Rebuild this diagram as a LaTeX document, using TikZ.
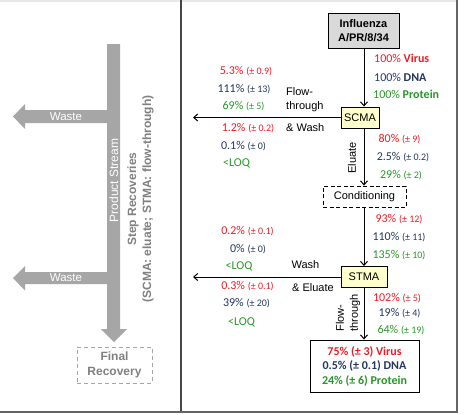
\documentclass[tikz,border=0pt]{standalone}
\usepackage{fontspec}
\setmainfont{Liberation Sans}
\newfontfamily\carl{Carlito}
\usetikzlibrary{arrows.meta}
\definecolor{cred}{RGB}{237,28,36}
\definecolor{cnavy}{RGB}{36,54,96}
\definecolor{cgreen}{RGB}{40,150,40}
\definecolor{agray}{RGB}{166,166,166}
\definecolor{tgray}{RGB}{128,128,128}
\definecolor{boxgray}{RGB}{217,217,217}
\definecolor{boxyellow}{RGB}{255,255,204}
\definecolor{framegray}{RGB}{70,70,70}
\definecolor{edgegray}{RGB}{100,100,100}
\definecolor{topgray}{RGB}{232,232,232}
\newcommand\pcv[3]{\textcolor{#1}{#2\% {\fontsize{10}{12}\selectfont(± #3)}}}
\begin{document}
\begin{tikzpicture}[x=1pt,y=-1pt,
  pct/.style={font=\carl\fontsize{12}{14}\selectfont, inner sep=0pt},
  lbl/.style={font=\fontsize{11}{14}\selectfont, inner sep=0pt},
  arr/.style={-{Straight Barb[length=4pt,width=7pt]}, line width=1pt},
  box/.style={draw, line width=0.9pt, inner sep=2pt, font=\fontsize{11}{14}\selectfont}]
\useasboundingbox (0,0) rectangle (474,415);
% frame
\draw[topgray, line width=2pt] (0,1) -- (457,1);
\draw[framegray, line width=1.5pt] (181,0) -- (181,412);
\draw[edgegray, line width=2pt] (0,412) -- (458,412);
\draw[edgegray, line width=2pt] (457,0) -- (457,413);
% left schematic
\fill[agray] (107,44) -- (120,44) -- (120,329) -- (127,329) -- (114,342) -- (101,329) -- (107,329) -- cycle;
\fill[agray] (107.5,110) -- (25,110) -- (25,104) -- (13,116.5) -- (25,129) -- (25,123) -- (107.5,123) -- cycle;
\fill[agray] (107.5,272) -- (25,272) -- (25,266) -- (13,278) -- (25,290.5) -- (25,284) -- (107.5,284) -- cycle;
\node[text=white, font=\fontsize{11.5}{13}\selectfont, inner sep=0pt] (waste1) at (66,116.5) {Waste};
\node[text=white, font=\fontsize{11.5}{13}\selectfont, inner sep=0pt] (waste2) at (66,278) {Waste};
\node[rotate=90, text=white, font=\fontsize{12}{14}\selectfont, inner sep=0pt] (ps) at (113.8,180.5) {Product Stream};
\node[rotate=90, text=tgray, font=\bfseries\fontsize{12}{15}\selectfont, align=center, inner sep=0pt] (sr) at (140.5,199) {Step Recoveries\\(SCMA: eluate; STMA: flow-through)};
\node[draw=agray, dash pattern=on 4pt off 3pt, line width=1pt, minimum width=75pt, minimum height=36pt, text=tgray, font=\bfseries\fontsize{12}{15}\selectfont, align=center] (fr) at (114.5,365) {Final\\Recovery};
% right flow
\node[box, fill=boxgray, minimum width=71pt, minimum height=35pt, align=center, font=\bfseries\fontsize{11}{14}\selectfont] (infl) at (363.5,30.5) {Influenza\\A/PR/8/34};
\node[box, fill=boxyellow, minimum width=38pt, minimum height=21pt] (scma) at (360,117.5) {SCMA};
\node[box, dash pattern=on 4pt off 2.5pt, minimum width=83pt, minimum height=21pt] (cond) at (364.5,196.5) {Conditioning};
\node[box, fill=boxyellow, minimum width=46pt, minimum height=21pt] (stma) at (364,277) {STMA};
\node[box, minimum width=109pt, minimum height=52pt, align=center, font=\carl\bfseries\fontsize{12}{14.5}\selectfont] (final) at (364.5,366) {\textcolor{cred}{75\% (± 3) Virus}\\\textcolor{cnavy}{0.5\% (± 0.1) DNA}\\\textcolor{cgreen}{24\% (± 6) Protein}};
\coordinate (ax) at (364,0);
\draw[arr] (infl.south -| ax) -- (scma.north -| ax);
\draw[arr] (scma.south -| ax) -- (cond.north -| ax);
\draw[arr] (cond.south -| ax) -- (stma.north -| ax);
\draw[arr] (stma.south -| ax) -- (final.north -| ax);
\coordinate (e1) at (193,117.5);
\coordinate (e2) at (193,277);
\draw[arr] (scma.west) -- (e1);
\draw[arr] (stma.west) -- (e2);
% labels
\node[lbl, align=left, anchor=west] (ft1) at (286,100) {Flow-\\through};
\node[lbl, anchor=west] (ampw) at (286,128) {\& Wash};
\node[lbl, rotate=90] (elu) at (352,158) {Eluate};
\node[lbl] (wash) at (305.5,265) {Wash};
\node[lbl, anchor=west] (ampe) at (292,288) {\& Eluate};
\node[lbl, rotate=90, align=left] (ft2) at (348,313) {Flow-\\through};
% SCMA input
\node[pct, anchor=west] (i1) at (374,58) {\textcolor{cred}{100\% \textbf{Virus}}};
\node[pct, anchor=west] (i2) at (374,77) {\textcolor{cnavy}{100\% \textbf{DNA}}};
\node[pct, anchor=west] (i3) at (373,94) {\textcolor{cgreen}{100\% \textbf{Protein}}};
% SCMA waste
\node[pct] (a1) at (246,71) {\pcv{cred}{5.3}{0.9}};
\node[pct] (a2) at (244,89) {\pcv{cnavy}{111}{13}};
\node[pct] (a3) at (243.5,106) {\pcv{cgreen}{69}{5}};
\node[pct] (a4) at (248,128) {\pcv{cred}{1.2}{0.2}};
\node[pct] (a5) at (243.5,146) {\pcv{cnavy}{0.1}{0}};
\node[pct] (a6) at (236.5,163) {\textcolor{cgreen}{<LOQ}};
% eluate
\node[pct] (b1) at (399.5,139) {\pcv{cred}{80}{9}};
\node[pct] (b2) at (403,157) {\pcv{cnavy}{2.5}{0.2}};
\node[pct] (b3) at (401,175) {\pcv{cgreen}{29}{2}};
% conditioning
\node[pct] (c1) at (399,219) {\pcv{cred}{93}{12}};
\node[pct] (c2) at (399,237) {\pcv{cnavy}{110}{11}};
\node[pct] (c3) at (399,255) {\pcv{cgreen}{135}{10}};
% STMA waste
\node[pct] (d1) at (247.5,231) {\pcv{cred}{0.2}{0.1}};
\node[pct] (d2) at (248,249) {\pcv{cnavy}{0}{0}};
\node[pct] (d3) at (239,266) {\textcolor{cgreen}{<LOQ}};
\node[pct] (d4) at (247.5,286) {\pcv{cred}{0.3}{0.1}};
\node[pct] (d5) at (246.5,303) {\pcv{cnavy}{39}{20}};
\node[pct] (d6) at (241.5,322) {\textcolor{cgreen}{<LOQ}};
% flow-through
\node[pct] (f1) at (397,298) {\pcv{cred}{102}{5}};
\node[pct] (f2) at (399.5,313) {\pcv{cnavy}{19}{4}};
\node[pct] (f3) at (401,330) {\pcv{cgreen}{64}{19}};
\end{tikzpicture}
\end{document}
